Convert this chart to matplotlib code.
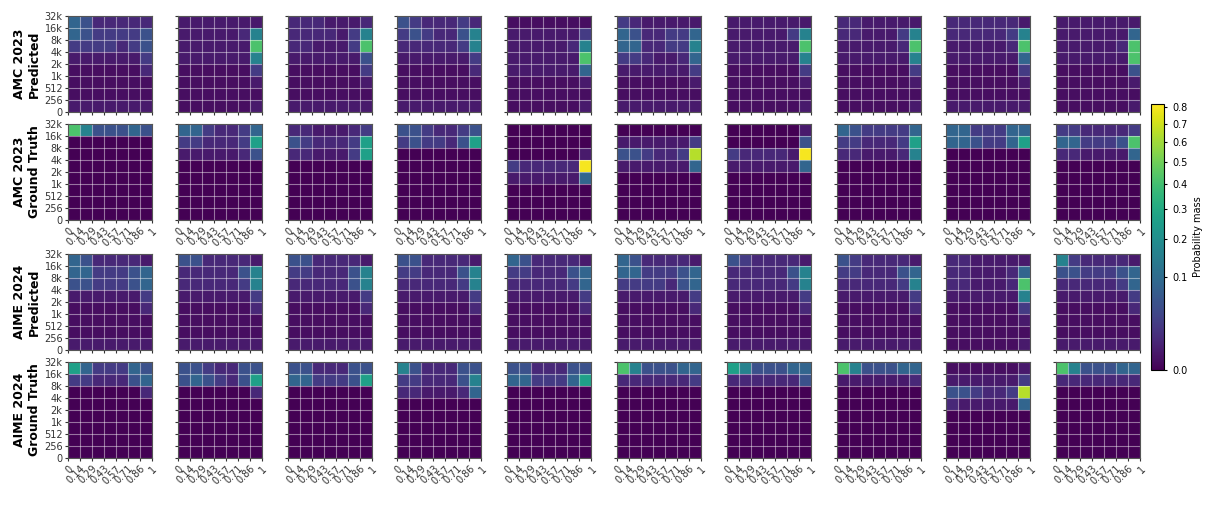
import numpy as np
import matplotlib.pyplot as plt
from matplotlib.colors import PowerNorm

# row labels and axis tick labels
row_names = ["AMC 2023\nPredicted", "AMC 2023\nGround Truth",
             "AIME 2024\nPredicted", "AIME 2024\nGround Truth"]
acc_ticks = ["0", "0.14", "0.29", "0.43", "0.57", "0.71", "0.86", "1"]
len_ticks = ["0", "256", "512", "1k", "2k", "4k", "8k", "16k", "32k"]

# probability mass levels, coded per cell (top row = 16k-32k)
levels = {"0": 0.0, "1": 0.0012, "2": 0.004, "3": 0.01, "4": 0.025, "5": 0.05,
          "6": 0.085, "7": 0.16, "8": 0.26, "9": 0.42, "L": 0.65, "Y": 0.8}
Z = ["0000000"]

amc_pred = [
    ["6533333", "6544445", "4444345", "2222224", "1111113", "1111111", "1111111", "2222222"],
    ["2222222", "2222237", "2222229", "2222227", "1111114", "1111112", "1111111", "1111112"],
    ["3332223", "3333247", "3322249", "2222225", "1111114", "1111112", "1111111", "2222222"],
    ["5433343", "4543357", "3333347", "2222224", "1111113", "1111111", "1111111", "2222222"],
    ["1111111", "2222224", "2222237", "2222229", "2222226", "1111112", "1111111", "1111112"],
    ["4322222", "6533446", "6633447", "4432236", "2222224", "1111112", "1111111", "2222222"],
    ["2222222", "2222247", "2222229", "2222227", "1111114", "1111112", "1111111", "1111112"],
    ["3322222", "3322247", "2222239", "2222227", "1111114", "1111112", "1111111", "1111112"],
    ["3333332", "3333347", "2222239", "2222226", "1111114", "1111112", "1111111", "2222222"],
    ["2222222", "2222226", "2222239", "2222229", "1111115", "1111112", "1111111", "1111112"],
]
amc_true = [
    ["9755565"] + Z * 7,
    ["6643346", "4433348", "2222235"] + Z * 5,
    ["3322234", "5433348", "3322248"] + Z * 5,
    ["5543345", "4544358"] + Z * 6,
    ["0000000", "0000000", "0000002", "433333Y", "2222226"] + Z * 3,
    ["0000000", "2222224", "554334L", "2222226"] + Z * 4,
    ["0000002", "0000005", "433332Y", "2222226"] + Z * 4,
    ["6544446", "4433348", "3322237"] + Z * 5,
    ["6644466", "6654468"] + Z * 6,
    ["4433334", "6644459", "3322226"] + Z * 5,
]
aime_pred = [
    ["6533332", "6644456", "5544456", "2222224", "1111113", "1111111", "1111111", "2222222"],
    ["5533332", "3333357", "3333347", "2222224", "1111113", "1111111", "1111111", "2222222"],
    ["5533332", "4433357", "3333357", "2222224", "1111113", "1111111", "1111111", "2222222"],
    ["5533332", "4433357", "3333347", "2222224", "1111113", "1111111", "1111111", "2222222"],
    ["6533332", "4433356", "3333346", "2222224", "1111113", "1111111", "1111111", "2222222"],
    ["6533332", "6644456", "4444356", "2222224", "1111113", "1111111", "1111111", "2222222"],
    ["5433332", "3333357", "3333347", "2222224", "1111113", "1111111", "1111111", "2222222"],
    ["5433332", "4433356", "3333347", "2222224", "1111113", "1111111", "1111111", "2222222"],
    ["3322222", "3322236", "3322239", "2222227", "1111114", "1111112", "1111111", "1111112"],
    ["7433332", "5544456", "3333346", "2222224", "1111113", "1111111", "1111111", "2222222"],
]
aime_true = [
    ["8644465", "4433356", "0000003"] + Z * 5,
    ["5543355", "5654358", "0000003"] + Z * 5,
    ["5533355", "6644458"] + Z * 6,
    ["7533355", "4433357", "3322236"] + Z * 5,
    ["5533355", "6644468"] + Z * 6,
    ["9755566", "3333334"] + Z * 6,
    ["8755566", "3333335"] + Z * 6,
    ["9755566", "2222223"] + Z * 6,
    ["1111112", "2222224", "554334L", "3222226"] + Z * 4,
    ["9755566", "3333333"] + Z * 6,
]
all_rows = [amc_pred, amc_true, aime_pred, aime_true]


def decode(panel):
    m = np.array([[levels[c] for c in row] for row in panel])
    return m[::-1]  # bottom row first


W, H = 1206, 512
fig = plt.figure(figsize=(W / 100, H / 100), dpi=100)
norm = PowerNorm(gamma=0.5, vmin=0, vmax=0.82)
row_tops = [16, 124, 254, 362]
pw, ph = 84, 96
mesh = None
for r, panels in enumerate(all_rows):
    for c, panel in enumerate(panels):
        x0 = 68 + c * 109.8
        ax = fig.add_axes([x0 / W, 1 - (row_tops[r] + ph) / H, pw / W, ph / H])
        mesh = ax.pcolormesh(np.arange(8), np.arange(9), decode(panel),
                             cmap="viridis", norm=norm)
        ax.set_xlim(0, 7)
        ax.set_ylim(0, 8)
        ax.set_xticks(np.arange(8))
        ax.set_yticks(np.arange(9))
        ax.grid(True, color="white", alpha=0.45, linewidth=0.8)
        ax.tick_params(length=2.5, width=0.8, labelsize=7, pad=1.5, colors="#333333")
        if r in (1, 3):
            ax.set_xticklabels(acc_ticks, rotation=45, ha="right", rotation_mode="anchor")
        else:
            ax.set_xticklabels([])
        if c == 0:
            ax.set_yticklabels(len_ticks)
            ax.set_ylabel(row_names[r], fontsize=9, fontweight="bold", labelpad=2)
        else:
            ax.set_yticklabels([])
        for s in ax.spines.values():
            s.set_color("#555555")
            s.set_linewidth(0.8)

cax = fig.add_axes([1151 / W, 1 - 370 / H, 13 / W, 266 / H])
cb = fig.colorbar(mesh, cax=cax, ticks=[0, 0.1, 0.2, 0.3, 0.4, 0.5, 0.6, 0.7, 0.8])
cb.ax.tick_params(labelsize=7, length=2.5)
cb.set_label("Probability mass", fontsize=7)
fig.savefig("out.png", dpi=100)
